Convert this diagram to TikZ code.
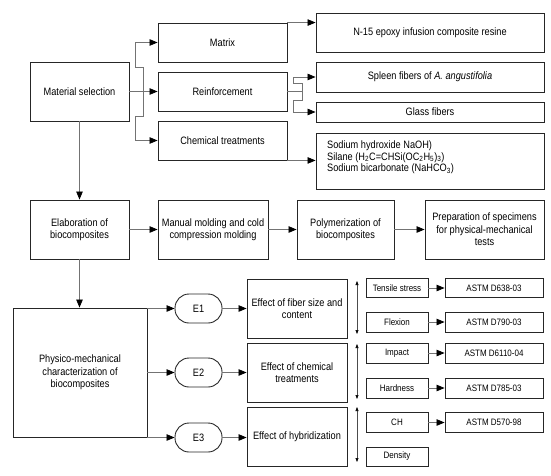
\documentclass[tikz,border=0pt]{standalone}
\usepackage{fontspec}
\setmainfont{Liberation Sans}[FakeStretch=0.86]
\usetikzlibrary{arrows.meta}
\tikzset{
  box/.style={draw=black!85, line width=0.9pt, inner sep=1pt, align=center,
    font=\fontsize{10.7}{12.5}\selectfont, text=black},
  sbox/.style={box, font=\fontsize{9.3}{11}\selectfont, minimum width=62pt, minimum height=20pt},
  abox/.style={box, font=\fontsize{9.3}{11}\selectfont, minimum width=98pt, minimum height=20pt},
  pill/.style={box, rounded corners=14pt, minimum width=47pt, minimum height=29pt},
  conn/.style={draw=black!55, line width=0.8pt},
  arr/.style={conn, -{Triangle[length=8pt,width=6.5pt,color=black]}},
  darr/.style={draw=black!70, line width=0.6pt,
    {Triangle[length=4pt,width=3pt,color=black]}-{Triangle[length=4pt,width=3pt,color=black]}}
}
\begin{document}
\begin{tikzpicture}[x=1pt,y=-1pt]
\useasboundingbox (0,0) rectangle (551,476);
% top block
\node[box, minimum width=99pt, minimum height=59pt] (ms) at (79.5,91.5) {Material selection};
\node[box, minimum width=129pt, minimum height=39pt] (mat) at (222.5,42.5) {Matrix};
\node[box, minimum width=129pt, minimum height=39pt] (rein) at (222.5,91.5) {Reinforcement};
\node[box, minimum width=129pt, minimum height=39pt] (chem) at (222.5,140.5) {Chemical treatments};
\node[box, minimum width=228pt, minimum height=39pt] (n15) at (430,32.5) {N-15 epoxy infusion composite resine};
\node[box, minimum width=228pt, minimum height=30pt] (spl) at (430,77) {Spleen fibers of \textit{A. angustifolia}};
\node[box, minimum width=228pt, minimum height=20pt] (gla) at (430,112) {Glass fibers};
\node[box, minimum width=228pt, minimum height=56pt] (sod) at (430,161) {};
\node[anchor=west, align=left, inner sep=0pt, font=\fontsize{10.7}{11.5}\selectfont, text=black] (sodt) at (327,157.5)
  {Sodium hydroxide NaOH)\\
   Silane (H\textsubscript{2}C=CHSi(OC\textsubscript{2}H\textsubscript{5})\textsubscript{3})\\
   Sodium bicarbonate (NaHCO\textsubscript{3})};
% middle row
\node[box, minimum width=99pt, minimum height=59pt] (elab) at (79.5,229.5) {Elaboration of\\biocomposites};
\node[box, minimum width=110pt, minimum height=59pt] (man) at (213,229.5) {Manual molding and cold\\compression molding};
\node[box, minimum width=97pt, minimum height=59pt] (pol) at (345.5,229.5) {Polymerization of\\biocomposites};
\node[box, minimum width=119pt, minimum height=59pt] (prep) at (484.5,229.5) {Preparation of specimens\\for physical-mechanical\\tests};
% bottom block
\node[box, minimum width=134pt, minimum height=129pt] (phys) at (80,372.5) {Physico-mechanical\\characterization of\\biocomposites};
\node[pill] (e1) at (198.5,308.5) {E1};
\node[pill] (e2) at (198.5,372.5) {E2};
\node[pill] (e3) at (198.5,437.5) {E3};
\node[box, minimum width=100pt, minimum height=59pt] (f1) at (297,308.5) {Effect of fiber size and\\content};
\node[box, minimum width=100pt, minimum height=59pt] (f2) at (297,372.5) {Effect of chemical\\treatments};
\node[box, minimum width=100pt, minimum height=59pt] (f3) at (297,436.5) {Effect of hybridization};
\node[sbox, minimum height=19pt] (ts) at (397,288) {Tensile stress};
\node[sbox] (fl) at (397,322) {Flexion};
\node[sbox] (im) at (397,353) {Impact};
\node[sbox] (hd) at (397,388) {Hardness};
\node[sbox] (ch) at (397,422.5) {CH};
\node[sbox, minimum height=19pt] (dn) at (397,456.5) {Density};
\node[abox, minimum height=19pt] (a1) at (494,288) {ASTM D638-03};
\node[abox] (a2) at (494,322) {ASTM D790-03};
\node[abox] (a3) at (494,353) {ASTM D6110-04};
\node[abox] (a4) at (494,388) {ASTM D785-03};
\node[abox] (a5) at (494,422.5) {ASTM D570-98};
% connectors: top
\coordinate (jl) at (143,91.5);
\draw[arr] (ms.east) -- (rein.west);
\draw[arr] (jl) -- (143,67) -- (135,67) -- (135,42.5) -- (mat.west);
\draw[arr] (jl) -- (143,116) -- (135,116) -- (135,140.5) -- (chem.west);
\draw[arr] (mat.north east) -- (n15.west |- mat.north east);
\draw[arr] (chem.south east) -- (sod.west |- chem.south east);
\coordinate (jr) at (302,91.5);
\draw[conn] (rein.east) -- (jr);
\draw[arr] (jr) -- (302,83) -- (293,83) -- (293,77) -- (spl.west);
\draw[arr] (jr) -- (302,100) -- (293,100) -- (293,112) -- (gla.west);
% middle
\draw[arr] (ms.south) -- (elab.north);
\draw[arr] (elab) -- (man);
\draw[arr] (man) -- (pol);
\draw[arr] (pol) -- (prep);
\draw[arr] (elab.south) -- (elab.south |- phys.north);
% bottom
\draw[arr] (phys.east |- e1.west) -- (e1.west);
\draw[arr] (phys.east |- e2.west) -- (e2.west);
\draw[arr] (phys.east |- e3.west) -- (e3.west);
\draw[arr] (e1) -- (f1.west |- e1);
\draw[arr] (e2) -- (f2.west |- e2);
\draw[arr] (e3) -- (f3.west |- e3);
\draw[arr] (ts) -- (a1);
\draw[arr] (fl) -- (a2);
\draw[arr] (im) -- (a3);
\draw[arr] (hd) -- (a4);
\draw[arr] (ch) -- (a5);
\coordinate (d1a) at (357,281); \coordinate (d1b) at (357,334);
\coordinate (d2a) at (357,344); \coordinate (d2b) at (357,399);
\coordinate (d3a) at (357,407); \coordinate (d3b) at (357,462);
\draw[darr] (d1a) -- (d1b);
\draw[darr] (d2a) -- (d2b);
\draw[darr] (d3a) -- (d3b);
\end{tikzpicture}
\end{document}
